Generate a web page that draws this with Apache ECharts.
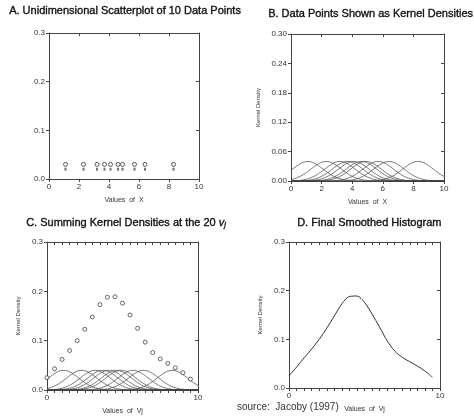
<!DOCTYPE html>
<html><head><meta charset="utf-8">
<script src="https://cdn.jsdelivr.net/npm/echarts@6/dist/echarts.min.js"></script>
<style>html,body{margin:0;background:#fff}#c{width:474px;height:418px}</style>
</head><body><div id="c"></div>
<script>
// observed data points (panel A)
const dataX = [1.1, 2.3, 3.2, 3.7, 4.1, 4.6, 4.9, 5.7, 6.4, 8.3];
const kernelPeak = 0.04;   // read height of each kernel
const kernelSD = 1.0;      // read width of each kernel
// evaluation points v_j and summed densities
const vj = [0,0.5,1,1.5,2,2.5,3,3.5,4,4.5,5,5.5,6,6.5,7,7.5,8,8.5,9,9.5];
const sumDens = [0.025,0.043,0.062,0.080,0.100,0.123,0.148,0.173,0.188,0.189,0.176,0.152,0.125,0.097,0.076,0.063,0.054,0.045,0.035,0.022];

const chart = echarts.init(document.getElementById('c'));
const grids = [
  {left:49, top:33, width:150, height:146},
  {left:291, top:34, width:153, height:147},
  {left:47, top:242, width:151, height:148},
  {left:289, top:242, width:151, height:146}
];
const lab = {color:'#333', fontSize:8, fontFamily:'Liberation Sans'};
const ax = {onZero:false, lineStyle:{color:'#444', width:1}};
const xAxis = [], yAxis = [];
const xCfg = [
  {interval:2, labelAll:true, name:'Values  of  X'},
  {interval:2, labelAll:true, name:'Values  of  X'},
  {interval:0.5, labelAll:false, name:'Values  of  Vj'},
  {interval:0.5, labelAll:false, name:'Values  of  Vj'}
];
const yCfg = [
  {max:0.3, interval:0.1, dec:1, name:''},
  {max:0.3, interval:0.06, dec:2, name:'Kernel Density'},
  {max:0.3, interval:0.1, dec:1, name:'Kernel Density'},
  {max:0.3, interval:0.1, dec:1, name:'Kernel Density'}
];
grids.forEach((g,i)=>{
  const xc = xCfg[i], yc = yCfg[i];
  const fmt = xc.labelAll ? (v=>String(Math.round(v))) : (v=>(v===0||v===10)?String(v):'');
  xAxis.push({gridIndex:i, type:'value', min:0, max:10, interval:xc.interval, position:'bottom',
    name:xc.name, nameLocation:'middle', nameGap:18, nameTextStyle:{color:'#333',fontSize:7,fontFamily:'Liberation Sans'},
    axisLine:ax, axisTick:{inside:false,length:3,lineStyle:{color:'#444'}}, splitLine:{show:false},
    axisLabel:Object.assign({formatter:fmt, margin:4, showMinLabel:true, showMaxLabel:true}, lab)});
  xAxis.push({gridIndex:i, type:'value', min:0, max:10, interval:xc.interval, position:'top',
    axisLine:ax, axisTick:{inside:true,length:3,lineStyle:{color:'#444'}}, axisLabel:{show:false}, splitLine:{show:false}});
  yAxis.push({gridIndex:i, type:'value', min:0, max:yc.max, interval:yc.interval, position:'left',
    name:yc.name, nameLocation:'middle', nameGap:yc.dec===2?30:26, nameRotate:90, nameTextStyle:{color:'#333',fontSize:6,fontFamily:'Liberation Sans'},
    axisLine:ax, axisTick:{inside:false,length:3,lineStyle:{color:'#444'}}, splitLine:{show:false},
    axisLabel:Object.assign({formatter:v=>v.toFixed(yc.dec), margin:4}, lab)});
  yAxis.push({gridIndex:i, type:'value', min:0, max:yc.max, interval:yc.interval, position:'right',
    axisLine:ax, axisTick:{inside:true,length:3,lineStyle:{color:'#444'}}, axisLabel:{show:false}, splitLine:{show:false}});
});

const xs = []; for (let k=0;k<=100;k++) xs.push(k/10);
function kernel(c){ return xs.map(x=>[x, kernelPeak*Math.exp(-Math.pow((x-c)/kernelSD,2)/2)]); }
const series = [];
// Panel A
series.push({type:'scatter', xAxisIndex:0, yAxisIndex:0, symbol:'circle', symbolSize:4,
  itemStyle:{color:'#fff', borderColor:'#333', borderWidth:1}, data:dataX.map(x=>[x,0.03])});
series.push({type:'scatter', xAxisIndex:0, yAxisIndex:0, symbol:'rect', symbolSize:[2,3],
  itemStyle:{color:'#555'}, data:dataX.map(x=>[x,0.02])});
// Panels B and C kernels
[[2,2],[4,4]].forEach(([xi,yi])=>{
  dataX.forEach(c=>series.push({type:'line', xAxisIndex:xi, yAxisIndex:yi, showSymbol:false, smooth:false,
    lineStyle:{color:'#444', width:0.7}, data:kernel(c), silent:true}));
});
// Panel C sums
series.push({type:'scatter', xAxisIndex:4, yAxisIndex:4, symbol:'circle', symbolSize:4,
  itemStyle:{color:'#fff', borderColor:'#444', borderWidth:1}, data:vj.map((v,j)=>[v,sumDens[j]]), z:5});
// Panel D
series.push({type:'line', xAxisIndex:6, yAxisIndex:6, showSymbol:false, smooth:0.3,
  lineStyle:{color:'#333', width:1}, data:vj.map((v,j)=>[v,sumDens[j]])});

const tStyle = {fontFamily:'Liberation Sans', fontSize:11, fill:'#111', stroke:'#111', lineWidth:0.35};
chart.setOption({
  animation:false,
  grid:grids,
  xAxis, yAxis, series,
  graphic:[
    {type:'text', left:9, top:5, style:Object.assign({text:'A. Unidimensional Scatterplot of 10 Data Points'}, tStyle)},
    {type:'text', left:268, top:8, style:Object.assign({text:'B. Data Points Shown as Kernel Densities'}, tStyle)},
    {type:'text', left:26, top:217, style:{rich:{a:tStyle, s:Object.assign({}, tStyle, {fontStyle:'italic'}), sub:Object.assign({}, tStyle, {fontSize:7, fontStyle:'italic', verticalAlign:'bottom'})}, text:'{a|C. Summing Kernel Densities at the 20 }{s|v}{sub|j}'}},
    {type:'text', left:297, top:217, style:Object.assign({text:'D. Final Smoothed Histogram'}, tStyle)},
    {type:'text', left:237, top:402, style:{text:'source:  Jacoby (1997)', fontFamily:'Liberation Sans', fontSize:10, fill:'#333'}}
  ]
});
</script></body></html>
